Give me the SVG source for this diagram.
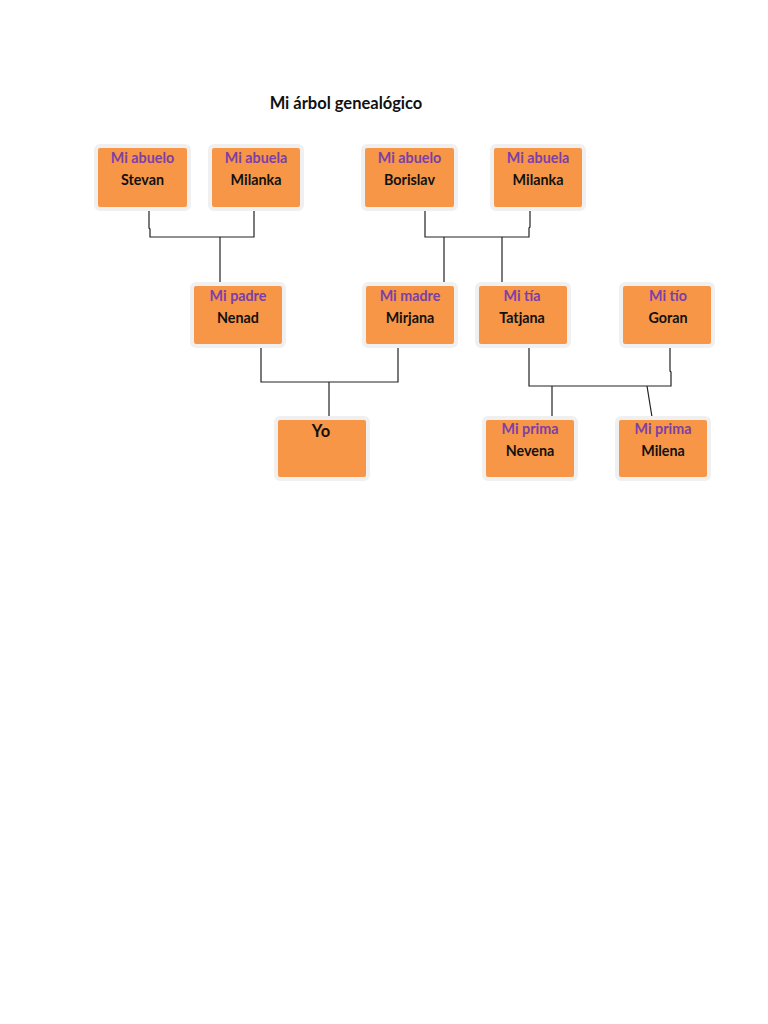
<svg xmlns="http://www.w3.org/2000/svg" width="768" height="1024" viewBox="0 0 768 1024">
<style>
.box{fill:#F79646;stroke:#F0F0F0;stroke-width:4}
.role{font-family:Lato,"Liberation Sans",sans-serif;font-size:14.3px;font-weight:bold;fill:#7B3FA8;text-anchor:middle}
.name{font-family:Lato,"Liberation Sans",sans-serif;font-size:14.3px;font-weight:bold;fill:#111;text-anchor:middle}
.title{font-family:Lato,"Liberation Sans",sans-serif;font-size:16.5px;font-weight:bold;fill:#111;text-anchor:middle}
.c{fill:none;stroke:#222;stroke-width:1.2}
</style>
<rect width="768" height="1024" fill="#fff"/>
<text class="title" x="346" y="109">Mi árbol genealógico</text>
<g id="connectors">
<polyline class="c" points="149,209 149,228 150,229 150,237 254,237 254,209"/>
<line class="c" x1="220" y1="237" x2="220" y2="284"/>
<polyline class="c" points="425,209 425,237 529,237 529,228 530,227 530,209"/>
<line class="c" x1="444" y1="237" x2="444" y2="284"/>
<line class="c" x1="502" y1="237" x2="502" y2="284"/>
<polyline class="c" points="261,346 261,382 398,382 398,346"/>
<line class="c" x1="329" y1="382" x2="329" y2="418"/>
<polyline class="c" points="529,346 529,386 671,386 671,372 670,371 670,346"/>
<line class="c" x1="552" y1="386" x2="552" y2="418"/>
<line class="c" x1="647" y1="386" x2="652" y2="417"/>
</g>
<g id="n-stevan"><rect class="box" x="96" y="146" width="93" height="63" rx="4"/><text class="role" x="142.5" y="163">Mi abuelo</text><text class="name" x="142.5" y="185">Stevan</text></g>
<g id="n-milanka1"><rect class="box" x="210" y="146" width="92" height="63" rx="4"/><text class="role" x="256" y="163">Mi abuela</text><text class="name" x="256" y="185">Milanka</text></g>
<g id="n-borislav"><rect class="box" x="363" y="146" width="93" height="63" rx="4"/><text class="role" x="409.5" y="163">Mi abuelo</text><text class="name" x="409.5" y="185">Borislav</text></g>
<g id="n-milanka2"><rect class="box" x="492" y="146" width="92" height="63" rx="4"/><text class="role" x="538" y="163">Mi abuela</text><text class="name" x="538" y="185">Milanka</text></g>
<g id="n-nenad"><rect class="box" x="192" y="284" width="92" height="62" rx="4"/><text class="role" x="238" y="301">Mi padre</text><text class="name" x="238" y="323">Nenad</text></g>
<g id="n-mirjana"><rect class="box" x="364" y="284" width="92" height="62" rx="4"/><text class="role" x="410" y="301">Mi madre</text><text class="name" x="410" y="323">Mirjana</text></g>
<g id="n-tatjana"><rect class="box" x="477" y="284" width="92" height="62" rx="4"/><text class="role" x="522" y="301">Mi tía</text><text class="name" x="522" y="323">Tatjana</text></g>
<g id="n-goran"><rect class="box" x="621" y="284" width="92" height="62" rx="4"/><text class="role" x="668" y="301">Mi tío</text><text class="name" x="668" y="323">Goran</text></g>
<g id="n-yo"><rect class="box" x="276" y="418" width="92" height="61" rx="4"/><text class="title" x="321" y="437">Yo</text></g>
<g id="n-nevena"><rect class="box" x="484" y="418" width="92" height="61" rx="4"/><text class="role" x="530" y="434">Mi prima</text><text class="name" x="530" y="456">Nevena</text></g>
<g id="n-milena"><rect class="box" x="617" y="418" width="92" height="61" rx="4"/><text class="role" x="663" y="434">Mi prima</text><text class="name" x="663" y="456">Milena</text></g>
</svg>
